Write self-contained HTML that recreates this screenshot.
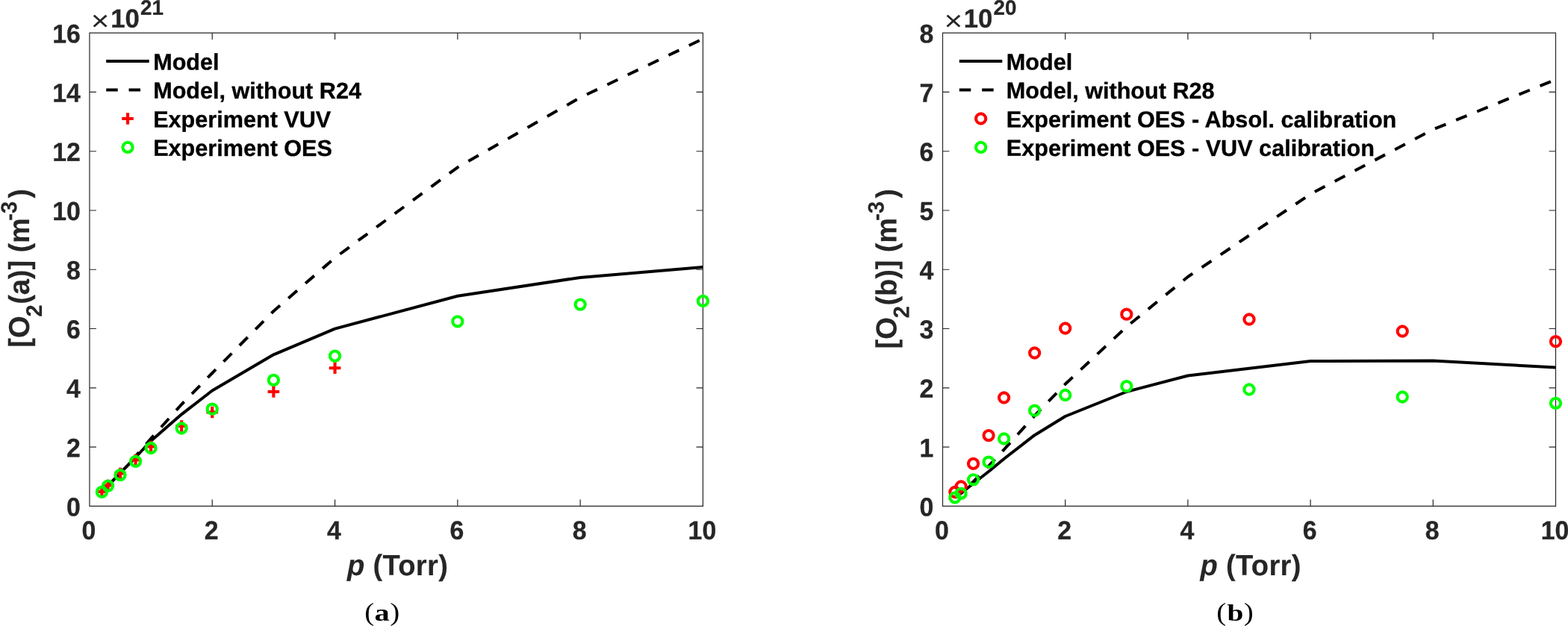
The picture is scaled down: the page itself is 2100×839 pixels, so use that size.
<!DOCTYPE html>
<html lang="en">
<head>
<meta charset="utf-8">
<title>Figure: [O2(a)] and [O2(b)] densities versus pressure</title>
<style>
html,body{margin:0;padding:0;background:#fff;}
body{width:2100px;height:839px;overflow:hidden;}
svg{display:block;}
text{white-space:pre;text-rendering:geometricPrecision;}
</style>
</head>
<body>
<svg width="2100" height="839" viewBox="0 0 2100 839">
<rect width="2100" height="839" fill="#fff"/>
<g id="panel-a">
<path class="axes" d="M119.95 44.2H941.45V678.3H119.95ZM284.25 678.3v-8.9M284.25 44.2v8.9M448.55 678.3v-8.9M448.55 44.2v8.9M612.85 678.3v-8.9M612.85 44.2v8.9M777.15 678.3v-8.9M777.15 44.2v8.9M119.95 599.037h8.9M941.45 599.037h-8.9M119.95 519.775h8.9M941.45 519.775h-8.9M119.95 440.512h8.9M941.45 440.512h-8.9M119.95 361.25h8.9M941.45 361.25h-8.9M119.95 281.988h8.9M941.45 281.988h-8.9M119.95 202.725h8.9M941.45 202.725h-8.9M119.95 123.463h8.9M941.45 123.463h-8.9" fill="none" stroke="#262626" stroke-width="1.2" stroke-linejoin="miter"/>
<g class="series">
<path d="M136.38 660L144.595 651L161.025 634L181.562 613L202.1 591L243.175 555.3L284.25 523.5L366.4 475.3L448.55 440.6L612.85 396.7L777.15 371.9L941.45 358.1" fill="none" stroke="#000" stroke-width="4" stroke-linejoin="round"/>
<path d="M136.38 660L144.595 651L161.025 634L181.562 611.5L202.1 587.8L243.175 542L284.25 500L366.4 417L448.55 345.5L612.85 224.3L777.15 130.8L941.45 52" fill="none" stroke="#000" stroke-width="4" stroke-linejoin="round" stroke-dasharray="15.5 14.85" stroke-dashoffset="3.2"/>
<path d="M128.58 659H144.18M136.38 651.2V666.8M136.795 650.5H152.395M144.595 642.7V658.3M153.225 634.5H168.825M161.025 626.7V642.3M173.762 616.5H189.363M181.562 608.7V624.3M194.3 598.5H209.9M202.1 590.7V606.3M235.375 571H250.975M243.175 563.2V578.8M276.45 552.5H292.05M284.25 544.7V560.3M358.6 525H374.2M366.4 517.2V532.8M440.75 493.3H456.35M448.55 485.5V501.1" fill="none" stroke="#f00" stroke-width="4.1"/>
<g fill="none" stroke="#0f0" stroke-width="4.1">
<circle cx="136.38" cy="659.4" r="6.6"/>
<circle cx="144.595" cy="651.1" r="6.6"/>
<circle cx="161.025" cy="636.6" r="6.6"/>
<circle cx="181.562" cy="618.3" r="6.6"/>
<circle cx="202.1" cy="600.5" r="6.6"/>
<circle cx="243.175" cy="574" r="6.6"/>
<circle cx="284.25" cy="548.2" r="6.6"/>
<circle cx="366.4" cy="509.4" r="6.6"/>
<circle cx="448.55" cy="477.1" r="6.6"/>
<circle cx="612.85" cy="430.8" r="6.6"/>
<circle cx="777.15" cy="408.1" r="6.6"/>
<circle cx="941.45" cy="403.4" r="6.6"/>
</g>
</g>
<g class="ticklabels" stroke="#262626" stroke-width="0.3" stroke-linejoin="round">
<text transform="translate(118.9,722.85) rotate(0.03) scale(0.975,1.008)" font-family='"Liberation Sans", sans-serif' font-size="34.7" font-weight="bold" text-anchor="middle" fill="#262626">0</text>
<text transform="translate(283.2,722.85) rotate(0.03) scale(0.975,1.008)" font-family='"Liberation Sans", sans-serif' font-size="34.7" font-weight="bold" text-anchor="middle" fill="#262626">2</text>
<text transform="translate(447.5,722.85) rotate(0.03) scale(0.975,1.008)" font-family='"Liberation Sans", sans-serif' font-size="34.7" font-weight="bold" text-anchor="middle" fill="#262626">4</text>
<text transform="translate(611.8,722.85) rotate(0.03) scale(0.975,1.008)" font-family='"Liberation Sans", sans-serif' font-size="34.7" font-weight="bold" text-anchor="middle" fill="#262626">6</text>
<text transform="translate(776.1,722.85) rotate(0.03) scale(0.975,1.008)" font-family='"Liberation Sans", sans-serif' font-size="34.7" font-weight="bold" text-anchor="middle" fill="#262626">8</text>
<text transform="translate(940.4,722.85) rotate(0.03) scale(0.975,1.008)" font-family='"Liberation Sans", sans-serif' font-size="34.7" font-weight="bold" text-anchor="middle" fill="#262626">10</text>
<text transform="translate(107.8,691.4) rotate(0.03) scale(0.975,1.008)" font-family='"Liberation Sans", sans-serif' font-size="34.7" font-weight="bold" text-anchor="end" fill="#262626">0</text>
<text transform="translate(107.8,612.137) rotate(0.03) scale(0.975,1.008)" font-family='"Liberation Sans", sans-serif' font-size="34.7" font-weight="bold" text-anchor="end" fill="#262626">2</text>
<text transform="translate(107.8,532.875) rotate(0.03) scale(0.975,1.008)" font-family='"Liberation Sans", sans-serif' font-size="34.7" font-weight="bold" text-anchor="end" fill="#262626">4</text>
<text transform="translate(107.8,453.613) rotate(0.03) scale(0.975,1.008)" font-family='"Liberation Sans", sans-serif' font-size="34.7" font-weight="bold" text-anchor="end" fill="#262626">6</text>
<text transform="translate(107.8,374.35) rotate(0.03) scale(0.975,1.008)" font-family='"Liberation Sans", sans-serif' font-size="34.7" font-weight="bold" text-anchor="end" fill="#262626">8</text>
<text transform="translate(107.8,295.088) rotate(0.03) scale(0.975,1.008)" font-family='"Liberation Sans", sans-serif' font-size="34.7" font-weight="bold" text-anchor="end" fill="#262626">10</text>
<text transform="translate(107.8,215.825) rotate(0.03) scale(0.975,1.008)" font-family='"Liberation Sans", sans-serif' font-size="34.7" font-weight="bold" text-anchor="end" fill="#262626">12</text>
<text transform="translate(107.8,136.563) rotate(0.03) scale(0.975,1.008)" font-family='"Liberation Sans", sans-serif' font-size="34.7" font-weight="bold" text-anchor="end" fill="#262626">14</text>
<text transform="translate(107.8,57.3) rotate(0.03) scale(0.975,1.008)" font-family='"Liberation Sans", sans-serif' font-size="34.7" font-weight="bold" text-anchor="end" fill="#262626">16</text>
</g>
<g class="exponent" stroke="#262626" stroke-width="0.3" stroke-linejoin="round">
<text transform="translate(121.85,40.8) rotate(0.03) scale(1,0.894)" font-family='"Liberation Sans", sans-serif' font-size="42.4" font-weight="normal" text-anchor="start" fill="#262626" stroke="none">×</text>
<text transform="translate(148.25,36.7) rotate(0.03) scale(1,1.008)" font-family='"Liberation Sans", sans-serif' font-size="34.7" font-weight="bold" text-anchor="start" fill="#262626">10</text>
<text transform="translate(187.99,19.75) rotate(0.03) scale(1,1.008)" font-family='"Liberation Sans", sans-serif' font-size="27.76" font-weight="bold" text-anchor="start" fill="#262626">21</text>
</g>
<text transform="translate(465,770.85) rotate(0.03) scale(1,1.02)" font-family='"Liberation Sans", sans-serif' font-size="38.15" font-weight="bold" text-anchor="start" fill="#262626" letter-spacing="0.3" stroke="#262626" stroke-width="0.1" stroke-linejoin="round"><tspan font-style="italic">p</tspan> (Torr)</text>
<g class="ylabel" transform="translate(39,465.74) rotate(-89.97)" font-family='"Liberation Sans", sans-serif' font-weight="bold" fill="#262626" stroke="#262626" stroke-width="0.1" stroke-linejoin="round">
<text transform="translate(0,0) scale(1,1.02)" font-size="38.15">[O</text>
<text transform="translate(41.1,17) scale(1,1.02)" font-size="29.5">2</text>
<text transform="translate(58,0) scale(1,1.02)" font-size="38.15" letter-spacing="-0.15">(a)] (m</text>
<text transform="translate(169.7,-16.9) scale(1,1.02)" font-size="29.5">-3</text>
<text transform="translate(199.9,0) scale(1,1.02)" font-size="38.15">)</text>
</g>
<g class="caption">
<text transform="translate(488.3,831.7) rotate(0.03) scale(1.217,1.074)" font-family='"Liberation Serif", serif' font-size="32" font-weight="normal" text-anchor="start" fill="#000">(</text>
<text transform="translate(501.6,831.7) rotate(0.03) scale(1.264,0.983)" font-family='"Liberation Serif", serif' font-size="32" font-weight="bold" text-anchor="start" fill="#000">a</text>
<text transform="translate(522.15,831.7) rotate(0.03) scale(1.217,1.074)" font-family='"Liberation Serif", serif' font-size="32" font-weight="normal" text-anchor="start" fill="#000">)</text>
</g>
<g class="legend">
<path d="M142.2 82H199.7" stroke="#000" stroke-width="4" fill="none"/>
<text transform="translate(205.2,93.45) rotate(0.03)" font-family='"Liberation Sans", sans-serif' font-size="30.6" font-weight="bold" text-anchor="start" fill="#000" stroke="#000" stroke-width="0.35" stroke-linejoin="round">Model</text>
<path d="M142.2 120.4H199.7" stroke="#000" stroke-width="4" fill="none" stroke-dasharray="15.5 14.85"/>
<text transform="translate(205.2,131.85) rotate(0.03)" font-family='"Liberation Sans", sans-serif' font-size="30.6" font-weight="bold" text-anchor="start" fill="#000" stroke="#000" stroke-width="0.35" stroke-linejoin="round">Model, without R24</text>
<path d="M163.25 159H178.85M171.05 151.2V166.8" stroke="#f00" stroke-width="4.1" fill="none"/>
<text transform="translate(205.2,170.45) rotate(0.03)" font-family='"Liberation Sans", sans-serif' font-size="30.6" font-weight="bold" text-anchor="start" fill="#000" stroke="#000" stroke-width="0.35" stroke-linejoin="round">Experiment VUV</text>
<circle cx="171.05" cy="197.4" r="6.6" stroke="#0f0" stroke-width="4.1" fill="none"/>
<text transform="translate(205.2,208.85) rotate(0.03)" font-family='"Liberation Sans", sans-serif' font-size="30.6" font-weight="bold" text-anchor="start" fill="#000" stroke="#000" stroke-width="0.35" stroke-linejoin="round">Experiment OES</text>
</g>
</g>
<g id="panel-b">
<path class="axes" d="M1262.5 44.2H2083.5V678.3H1262.5ZM1426.7 678.3v-8.9M1426.7 44.2v8.9M1590.9 678.3v-8.9M1590.9 44.2v8.9M1755.1 678.3v-8.9M1755.1 44.2v8.9M1919.3 678.3v-8.9M1919.3 44.2v8.9M1262.5 599.037h8.9M2083.5 599.037h-8.9M1262.5 519.775h8.9M2083.5 519.775h-8.9M1262.5 440.512h8.9M2083.5 440.512h-8.9M1262.5 361.25h8.9M2083.5 361.25h-8.9M1262.5 281.988h8.9M2083.5 281.988h-8.9M1262.5 202.725h8.9M2083.5 202.725h-8.9M1262.5 123.463h8.9M2083.5 123.463h-8.9" fill="none" stroke="#262626" stroke-width="1.2" stroke-linejoin="miter"/>
<g class="series">
<path d="M1278.92 667L1287.13 661L1303.55 648L1324.075 632L1344.6 615L1385.65 583.2L1426.7 558L1508.8 525L1590.9 503.5L1755.1 484L1919.3 483.5L2083.5 492.5" fill="none" stroke="#000" stroke-width="4" stroke-linejoin="round"/>
<path d="M1278.92 667L1287.13 661L1303.55 645.5L1324.075 624.7L1344.6 602.6L1385.65 557.2L1426.7 514.8L1508.8 438L1590.9 371L1755.1 260.1L1919.3 173.5L2083.5 106.6" fill="none" stroke="#000" stroke-width="4" stroke-linejoin="round" stroke-dasharray="15.5 14.85" stroke-dashoffset="2"/>
<g fill="none" stroke="#f00" stroke-width="4.1">
<circle cx="1278.92" cy="659.5" r="6.6"/>
<circle cx="1287.13" cy="652" r="6.6"/>
<circle cx="1303.55" cy="621.4" r="6.6"/>
<circle cx="1324.075" cy="583.6" r="6.6"/>
<circle cx="1344.6" cy="533" r="6.6"/>
<circle cx="1385.65" cy="473" r="6.6"/>
<circle cx="1426.7" cy="440" r="6.6"/>
<circle cx="1508.8" cy="421.2" r="6.6"/>
<circle cx="1673" cy="428" r="6.6"/>
<circle cx="1878.25" cy="444" r="6.6"/>
<circle cx="2083.5" cy="457.7" r="6.6"/>
</g>
<g fill="none" stroke="#0f0" stroke-width="4.1">
<circle cx="1278.92" cy="666.8" r="6.6"/>
<circle cx="1287.13" cy="661.4" r="6.6"/>
<circle cx="1303.55" cy="642.8" r="6.6"/>
<circle cx="1324.075" cy="619.2" r="6.6"/>
<circle cx="1344.6" cy="588" r="6.6"/>
<circle cx="1385.65" cy="550.2" r="6.6"/>
<circle cx="1426.7" cy="529.5" r="6.6"/>
<circle cx="1508.8" cy="517.7" r="6.6"/>
<circle cx="1673" cy="522" r="6.6"/>
<circle cx="1878.25" cy="532" r="6.6"/>
<circle cx="2083.5" cy="540.4" r="6.6"/>
</g>
</g>
<g class="ticklabels" stroke="#262626" stroke-width="0.3" stroke-linejoin="round">
<text transform="translate(1261.45,722.85) rotate(0.03) scale(0.975,1.008)" font-family='"Liberation Sans", sans-serif' font-size="34.7" font-weight="bold" text-anchor="middle" fill="#262626">0</text>
<text transform="translate(1425.65,722.85) rotate(0.03) scale(0.975,1.008)" font-family='"Liberation Sans", sans-serif' font-size="34.7" font-weight="bold" text-anchor="middle" fill="#262626">2</text>
<text transform="translate(1589.85,722.85) rotate(0.03) scale(0.975,1.008)" font-family='"Liberation Sans", sans-serif' font-size="34.7" font-weight="bold" text-anchor="middle" fill="#262626">4</text>
<text transform="translate(1754.05,722.85) rotate(0.03) scale(0.975,1.008)" font-family='"Liberation Sans", sans-serif' font-size="34.7" font-weight="bold" text-anchor="middle" fill="#262626">6</text>
<text transform="translate(1918.25,722.85) rotate(0.03) scale(0.975,1.008)" font-family='"Liberation Sans", sans-serif' font-size="34.7" font-weight="bold" text-anchor="middle" fill="#262626">8</text>
<text transform="translate(2082.45,722.85) rotate(0.03) scale(0.975,1.008)" font-family='"Liberation Sans", sans-serif' font-size="34.7" font-weight="bold" text-anchor="middle" fill="#262626">10</text>
<text transform="translate(1250.4,691.4) rotate(0.03) scale(0.975,1.008)" font-family='"Liberation Sans", sans-serif' font-size="34.7" font-weight="bold" text-anchor="end" fill="#262626">0</text>
<text transform="translate(1250.4,612.137) rotate(0.03) scale(0.975,1.008)" font-family='"Liberation Sans", sans-serif' font-size="34.7" font-weight="bold" text-anchor="end" fill="#262626">1</text>
<text transform="translate(1250.4,532.875) rotate(0.03) scale(0.975,1.008)" font-family='"Liberation Sans", sans-serif' font-size="34.7" font-weight="bold" text-anchor="end" fill="#262626">2</text>
<text transform="translate(1250.4,453.613) rotate(0.03) scale(0.975,1.008)" font-family='"Liberation Sans", sans-serif' font-size="34.7" font-weight="bold" text-anchor="end" fill="#262626">3</text>
<text transform="translate(1250.4,374.35) rotate(0.03) scale(0.975,1.008)" font-family='"Liberation Sans", sans-serif' font-size="34.7" font-weight="bold" text-anchor="end" fill="#262626">4</text>
<text transform="translate(1250.4,295.088) rotate(0.03) scale(0.975,1.008)" font-family='"Liberation Sans", sans-serif' font-size="34.7" font-weight="bold" text-anchor="end" fill="#262626">5</text>
<text transform="translate(1250.4,215.825) rotate(0.03) scale(0.975,1.008)" font-family='"Liberation Sans", sans-serif' font-size="34.7" font-weight="bold" text-anchor="end" fill="#262626">6</text>
<text transform="translate(1250.4,136.563) rotate(0.03) scale(0.975,1.008)" font-family='"Liberation Sans", sans-serif' font-size="34.7" font-weight="bold" text-anchor="end" fill="#262626">7</text>
<text transform="translate(1250.4,57.3) rotate(0.03) scale(0.975,1.008)" font-family='"Liberation Sans", sans-serif' font-size="34.7" font-weight="bold" text-anchor="end" fill="#262626">8</text>
</g>
<g class="exponent" stroke="#262626" stroke-width="0.3" stroke-linejoin="round">
<text transform="translate(1264.4,40.8) rotate(0.03) scale(1,0.894)" font-family='"Liberation Sans", sans-serif' font-size="42.4" font-weight="normal" text-anchor="start" fill="#262626" stroke="none">×</text>
<text transform="translate(1290.8,36.7) rotate(0.03) scale(1,1.008)" font-family='"Liberation Sans", sans-serif' font-size="34.7" font-weight="bold" text-anchor="start" fill="#262626">10</text>
<text transform="translate(1330.54,19.75) rotate(0.03) scale(1,1.008)" font-family='"Liberation Sans", sans-serif' font-size="27.76" font-weight="bold" text-anchor="start" fill="#262626">20</text>
</g>
<text transform="translate(1607.6,770.85) rotate(0.03) scale(1,1.02)" font-family='"Liberation Sans", sans-serif' font-size="38.15" font-weight="bold" text-anchor="start" fill="#262626" letter-spacing="0.3" stroke="#262626" stroke-width="0.1" stroke-linejoin="round"><tspan font-style="italic">p</tspan> (Torr)</text>
<g class="ylabel" transform="translate(1200.4,467.5) rotate(-89.97)" font-family='"Liberation Sans", sans-serif' font-weight="bold" fill="#262626" stroke="#262626" stroke-width="0.1" stroke-linejoin="round">
<text transform="translate(0,0) scale(1,1.02)" font-size="38.15">[O</text>
<text transform="translate(41.1,17) scale(1,1.02)" font-size="29.5">2</text>
<text transform="translate(58,0) scale(1,1.02)" font-size="38.15" letter-spacing="-0.15">(b)] (m</text>
<text transform="translate(171.48,-16.9) scale(1,1.02)" font-size="29.5">-3</text>
<text transform="translate(201.68,0) scale(1,1.02)" font-size="38.15">)</text>
</g>
<g class="caption">
<text transform="translate(1629.3,831.7) rotate(0.03) scale(1.217,1.074)" font-family='"Liberation Serif", serif' font-size="32" font-weight="normal" text-anchor="start" fill="#000">(</text>
<text transform="translate(1643.6,831.7) rotate(0.03) scale(1.23,0.975)" font-family='"Liberation Serif", serif' font-size="32" font-weight="bold" text-anchor="start" fill="#000">b</text>
<text transform="translate(1665.75,831.7) rotate(0.03) scale(1.217,1.074)" font-family='"Liberation Serif", serif' font-size="32" font-weight="normal" text-anchor="start" fill="#000">)</text>
</g>
<g class="legend">
<path d="M1284.8 82H1342.3" stroke="#000" stroke-width="4" fill="none"/>
<text transform="translate(1347.8,93.45) rotate(0.03)" font-family='"Liberation Sans", sans-serif' font-size="30.6" font-weight="bold" text-anchor="start" fill="#000" stroke="#000" stroke-width="0.35" stroke-linejoin="round">Model</text>
<path d="M1284.8 120.4H1342.3" stroke="#000" stroke-width="4" fill="none" stroke-dasharray="15.5 14.85"/>
<text transform="translate(1347.8,131.85) rotate(0.03)" font-family='"Liberation Sans", sans-serif' font-size="30.6" font-weight="bold" text-anchor="start" fill="#000" stroke="#000" stroke-width="0.35" stroke-linejoin="round">Model, without R28</text>
<circle cx="1313.65" cy="159" r="6.6" stroke="#f00" stroke-width="4.1" fill="none"/>
<text transform="translate(1347.8,170.45) rotate(0.03)" font-family='"Liberation Sans", sans-serif' font-size="30.6" font-weight="bold" text-anchor="start" fill="#000" stroke="#000" stroke-width="0.35" stroke-linejoin="round">Experiment OES - Absol. calibration</text>
<circle cx="1313.65" cy="197.4" r="6.6" stroke="#0f0" stroke-width="4.1" fill="none"/>
<text transform="translate(1347.8,208.85) rotate(0.03)" font-family='"Liberation Sans", sans-serif' font-size="30.6" font-weight="bold" text-anchor="start" fill="#000" stroke="#000" stroke-width="0.35" stroke-linejoin="round">Experiment OES - VUV calibration</text>
</g>
</g>
</svg>
</body>
</html>
